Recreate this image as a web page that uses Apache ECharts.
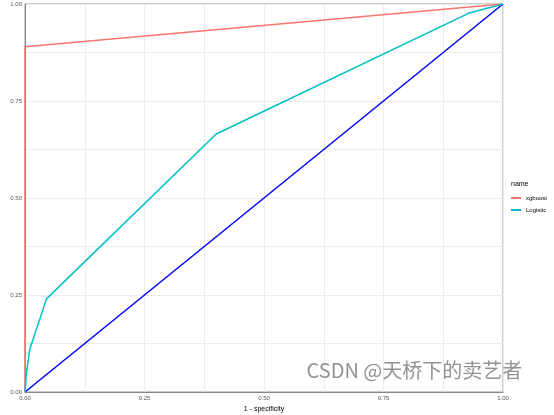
<!DOCTYPE html><html><head><meta charset="utf-8"><script src="https://cdn.jsdelivr.net/npm/echarts@6/dist/echarts.min.js"></script></head><body style="margin:0"><div id="c" style="width:554px;height:415px"></div><script>
const xgboost=[[0,0],[0,0.05],[0,0.45],[0,0.89],[1,1]];
const logistic=[[0,0],[0.003,0.05],[0.01,0.11],[0.045,0.24],[0.4,0.665],[0.93,0.977],[1,1]];
const diag=[[0,0],[1,1]];
const ticks=[0,0.25,0.5,0.75,1];
const fmt=v=>ticks.some(t=>Math.abs(t-v)<1e-9)?v.toFixed(2):'';
const ax=(name,gap)=>({type:'value',min:0,max:1,interval:0.125,name:name,nameLocation:'middle',nameGap:gap,
 nameTextStyle:{fontSize:7,color:'#000',fontFamily:'Liberation Sans'},
 axisLine:{show:true,lineStyle:{color:'#888'}},axisTick:{show:false},
 axisLabel:{formatter:fmt,fontSize:6,color:'#555',margin:3,showMinLabel:true,showMaxLabel:true},
 splitLine:{show:true,lineStyle:{color:'#ececec',width:1}}});
const c=echarts.init(document.getElementById('c'));
c.setOption({animation:false,backgroundColor:'#fff',
 grid:{left:25,right:51,top:4,bottom:23,show:true,borderColor:'#999',borderWidth:1,outerBoundsMode:'none',containLabel:false},
 xAxis:ax('1 - specificity',10),yAxis:ax('sensitivity',17),
 legend:{orient:'vertical',left:506,top:190,data:['xgboost','Logistic'],itemWidth:10,itemHeight:2,icon:'rect',itemGap:6,
  textStyle:{fontSize:6,color:'#000',fontFamily:'Liberation Sans'}},
 graphic:[{type:'text',left:511,top:181,style:{text:'name',fontSize:7,fill:'#000',fontFamily:'Liberation Sans'}},
  {type:'text',left:306,top:360,z:100,style:{text:'CSDN @天桥下的卖艺者',fontSize:20,fill:'rgba(110,110,110,0.75)',stroke:'rgba(255,255,255,0.6)',lineWidth:1,fontFamily:'Noto Sans CJK SC'}}],
 series:[
  {name:'diag',type:'line',data:diag,showSymbol:false,lineStyle:{color:'#0000ff',width:1.5},z:1},
  {name:'xgboost',type:'line',data:xgboost,showSymbol:false,color:'#F8766D',lineStyle:{width:1.5}},
  {name:'Logistic',type:'line',data:logistic,showSymbol:false,color:'#00BFC4',lineStyle:{width:1.5}}
 ]});
</script></body></html>
